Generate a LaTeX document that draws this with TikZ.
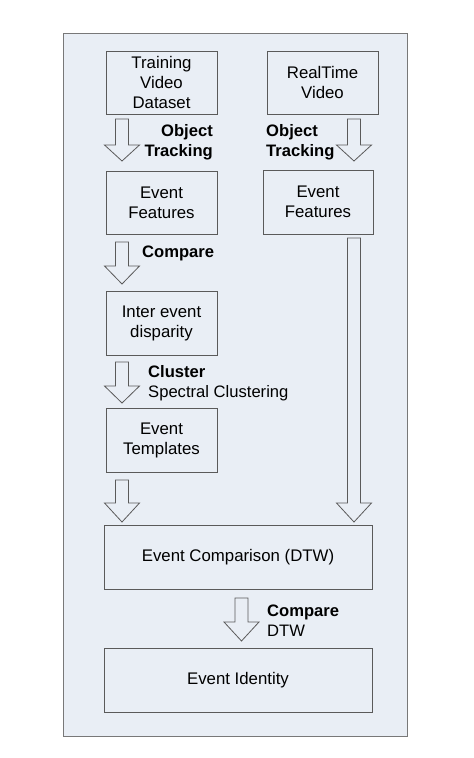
\documentclass[tikz,border=0pt]{standalone}
\usepackage{fontspec}
\setmainfont{Liberation Sans}
\definecolor{panelbg}{RGB}{233,238,245}
\definecolor{panelline}{RGB}{120,120,120}
\definecolor{boxline}{RGB}{90,90,90}
\begin{document}
\begin{tikzpicture}[x=1pt,y=-1pt,
  box/.style={draw=boxline,line width=0.9pt,fill=panelbg,align=center,
    font=\fontsize{16.8}{20}\selectfont,inner sep=0pt},
  barrow/.style={draw=boxline,line width=0.8pt,fill=panelbg,line join=miter},
  lbl/.style={font=\fontsize{16.6}{20}\selectfont,inner sep=0pt}]
\useasboundingbox (0,0) rectangle (474,758);
\fill[white] (0,0) rectangle (474,758);
\draw[panelline,fill=panelbg,line width=0.9pt] (63,33) rectangle (407,736);
\newcommand\barrow[4]{%
  \draw[barrow] ({#1-6.5},#2) -- ({#1+6.5},#2) -- ({#1+6.5},#3) -- ({#1+17.5},#3)
    -- (#1,#4) -- ({#1-17.5},#3) -- ({#1-6.5},#3) -- cycle;}
% boxes
\node[box,minimum width=111pt,minimum height=63pt] (train) at (161.5,82.5) {Training\\Video\\Dataset};
\node[box,minimum width=111pt,minimum height=63pt] (rt) at (322.5,82.5) {RealTime\\Video};
\node[box,minimum width=111pt,minimum height=63pt] (efl) at (161.5,202.5) {Event\\Features};
\node[box,minimum width=110pt,minimum height=64pt] (efr) at (318,202) {Event\\Features};
\node[box,minimum width=111pt,minimum height=64pt] (ied) at (161.5,323) {Inter event\\disparity};
\node[box,minimum width=111pt,minimum height=64pt] (et) at (161.5,440) {Event\\Templates};
\node[box,minimum width=268pt,minimum height=64pt] (ec) at (238,557) {Event Comparison (DTW)};
\node[box,minimum width=268pt,minimum height=64pt] (ei) at (238,680) {Event Identity};
% block arrows
\barrow{122}{119}{145}{161}
\barrow{354}{119}{145}{161}
\barrow{122}{242}{266}{284}
\barrow{122}{362}{386}{403}
\barrow{122}{480}{503}{522}
\barrow{354}{238}{503}{522}
\barrow{241.5}{598}{622}{641}
% labels
\node[lbl,anchor=east,align=right] (l1) at (213,142) {\textbf{Object}\\\textbf{Tracking}};
\node[lbl,anchor=west,align=left] (l2) at (266,142) {\textbf{Object}\\\textbf{Tracking}};
\node[lbl,anchor=west] (l3) at (142,253) {\textbf{Compare}};
\node[lbl,anchor=west,align=left] (l4) at (148,383) {\textbf{Cluster}\\Spectral Clustering};
\node[lbl,anchor=west,align=left] (l5) at (267,621) {\textbf{Compare}\\DTW};
\end{tikzpicture}
\end{document}
